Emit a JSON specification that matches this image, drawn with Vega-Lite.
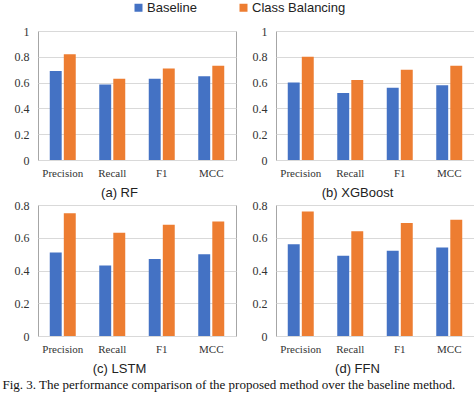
{
  "$schema": "https://vega.github.io/schema/vega-lite/v6.json",
  "padding": {"left": 2, "top": 1, "right": 2, "bottom": 2},
  "background": "white",
  "title": {"text": "Fig. 3. The performance comparison of the proposed method over the baseline method.", "orient": "bottom", "anchor": "start", "font": "Liberation Serif", "fontSize": 13, "fontWeight": "normal", "offset": 2, "color": "#111"},
  "data": {"values": [
    {"model": "RF", "metric": "Precision", "method": "Baseline", "value": 0.69},
    {"model": "RF", "metric": "Precision", "method": "Class Balancing", "value": 0.82},
    {"model": "RF", "metric": "Recall", "method": "Baseline", "value": 0.585},
    {"model": "RF", "metric": "Recall", "method": "Class Balancing", "value": 0.63},
    {"model": "RF", "metric": "F1", "method": "Baseline", "value": 0.63},
    {"model": "RF", "metric": "F1", "method": "Class Balancing", "value": 0.71},
    {"model": "RF", "metric": "MCC", "method": "Baseline", "value": 0.65},
    {"model": "RF", "metric": "MCC", "method": "Class Balancing", "value": 0.73},
    {"model": "XGBoost", "metric": "Precision", "method": "Baseline", "value": 0.60},
    {"model": "XGBoost", "metric": "Precision", "method": "Class Balancing", "value": 0.80},
    {"model": "XGBoost", "metric": "Recall", "method": "Baseline", "value": 0.52},
    {"model": "XGBoost", "metric": "Recall", "method": "Class Balancing", "value": 0.62},
    {"model": "XGBoost", "metric": "F1", "method": "Baseline", "value": 0.56},
    {"model": "XGBoost", "metric": "F1", "method": "Class Balancing", "value": 0.70},
    {"model": "XGBoost", "metric": "MCC", "method": "Baseline", "value": 0.58},
    {"model": "XGBoost", "metric": "MCC", "method": "Class Balancing", "value": 0.73},
    {"model": "LSTM", "metric": "Precision", "method": "Baseline", "value": 0.51},
    {"model": "LSTM", "metric": "Precision", "method": "Class Balancing", "value": 0.75},
    {"model": "LSTM", "metric": "Recall", "method": "Baseline", "value": 0.43},
    {"model": "LSTM", "metric": "Recall", "method": "Class Balancing", "value": 0.63},
    {"model": "LSTM", "metric": "F1", "method": "Baseline", "value": 0.47},
    {"model": "LSTM", "metric": "F1", "method": "Class Balancing", "value": 0.68},
    {"model": "LSTM", "metric": "MCC", "method": "Baseline", "value": 0.50},
    {"model": "LSTM", "metric": "MCC", "method": "Class Balancing", "value": 0.70},
    {"model": "FFN", "metric": "Precision", "method": "Baseline", "value": 0.56},
    {"model": "FFN", "metric": "Precision", "method": "Class Balancing", "value": 0.76},
    {"model": "FFN", "metric": "Recall", "method": "Baseline", "value": 0.49},
    {"model": "FFN", "metric": "Recall", "method": "Class Balancing", "value": 0.64},
    {"model": "FFN", "metric": "F1", "method": "Baseline", "value": 0.52},
    {"model": "FFN", "metric": "F1", "method": "Class Balancing", "value": 0.69},
    {"model": "FFN", "metric": "MCC", "method": "Baseline", "value": 0.54},
    {"model": "FFN", "metric": "MCC", "method": "Class Balancing", "value": 0.71}
  ]},
  "columns": 2,
  "spacing": {"row": -3, "column": 3},
  "concat": [
    {
      "width": 198, "height": 129,
      "title": {"text": "(a) RF"},
      "transform": [{"filter": "datum.model === 'RF'"}],
      "mark": {"type": "bar"},
      "encoding": {
        "x": {"field": "metric", "type": "nominal", "sort": ["Precision", "Recall", "F1", "MCC"], "scale": {"paddingInner": 0.475, "paddingOuter": 0.2375}},
        "xOffset": {"field": "method", "type": "nominal", "scale": {"paddingInner": 0.15}},
        "y": {"field": "value", "type": "quantitative", "scale": {"domain": [0, 1]}, "axis": {"values": [0, 0.2, 0.4, 0.6, 0.8, 1], "labelFont": "Liberation Serif"}},
        "color": {"field": "method", "type": "nominal", "scale": {"domain": ["Baseline", "Class Balancing"], "range": ["#4472C4", "#ED7D31"]}}
      }
    },
    {
      "width": 198, "height": 129,
      "title": {"text": "(b) XGBoost"},
      "transform": [{"filter": "datum.model === 'XGBoost'"}],
      "mark": {"type": "bar"},
      "encoding": {
        "x": {"field": "metric", "type": "nominal", "sort": ["Precision", "Recall", "F1", "MCC"], "scale": {"paddingInner": 0.475, "paddingOuter": 0.2375}},
        "xOffset": {"field": "method", "type": "nominal", "scale": {"paddingInner": 0.15}},
        "y": {"field": "value", "type": "quantitative", "scale": {"domain": [0, 1]}, "axis": {"values": [0, 0.2, 0.4, 0.6, 0.8, 1], "labelFont": "Liberation Serif"}},
        "color": {"field": "method", "type": "nominal", "scale": {"domain": ["Baseline", "Class Balancing"], "range": ["#4472C4", "#ED7D31"]}}
      }
    },
    {
      "width": 198, "height": 131,
      "title": {"text": "(c) LSTM"},
      "transform": [{"filter": "datum.model === 'LSTM'"}],
      "mark": {"type": "bar"},
      "encoding": {
        "x": {"field": "metric", "type": "nominal", "sort": ["Precision", "Recall", "F1", "MCC"], "scale": {"paddingInner": 0.475, "paddingOuter": 0.2375}},
        "xOffset": {"field": "method", "type": "nominal", "scale": {"paddingInner": 0.15}},
        "y": {"field": "value", "type": "quantitative", "scale": {"domain": [0, 0.8]}, "axis": {"values": [0, 0.2, 0.4, 0.6, 0.8], "labelFont": "Liberation Serif"}},
        "color": {"field": "method", "type": "nominal", "scale": {"domain": ["Baseline", "Class Balancing"], "range": ["#4472C4", "#ED7D31"]}}
      }
    },
    {
      "width": 198, "height": 131,
      "title": {"text": "(d) FFN"},
      "transform": [{"filter": "datum.model === 'FFN'"}],
      "mark": {"type": "bar"},
      "encoding": {
        "x": {"field": "metric", "type": "nominal", "sort": ["Precision", "Recall", "F1", "MCC"], "scale": {"paddingInner": 0.475, "paddingOuter": 0.2375}},
        "xOffset": {"field": "method", "type": "nominal", "scale": {"paddingInner": 0.15}},
        "y": {"field": "value", "type": "quantitative", "scale": {"domain": [0, 0.8]}, "axis": {"values": [0, 0.2, 0.4, 0.6, 0.8], "labelFont": "Liberation Serif"}},
        "color": {"field": "method", "type": "nominal", "scale": {"domain": ["Baseline", "Class Balancing"], "range": ["#4472C4", "#ED7D31"]}}
      }
    }
  ],
  "config": {
    "view": {"stroke": "#a6a6a6", "strokeWidth": 1},
    "title": {"orient": "bottom", "anchor": "middle", "frame": "bounds", "font": "Liberation Sans", "fontSize": 13, "fontWeight": "normal", "offset": 9, "color": "#222"},
    "axis": {"domain": false, "ticks": false, "title": null, "labelFont": "Liberation Serif", "labelColor": "#333", "gridColor": "#d9d9d9"},
    "axisX": {"labelAngle": 0, "labelFont": "Liberation Serif", "labelFontSize": 11, "labelPadding": 7, "grid": false},
    "axisY": {"labelFont": "Liberation Serif", "labelFontSize": 12, "labelPadding": 9, "format": ".1~f", "grid": true, "minExtent": 35},
    "legend": {"orient": "top", "offset": 9, "title": null, "labelFont": "Liberation Sans", "labelFontSize": 13, "labelColor": "#222", "symbolType": "square", "symbolSize": 64, "symbolStrokeWidth": 0, "columnPadding": 40, "labelOffset": 2, "layout": {"top": {"anchor": "middle"}}}
  }
}
